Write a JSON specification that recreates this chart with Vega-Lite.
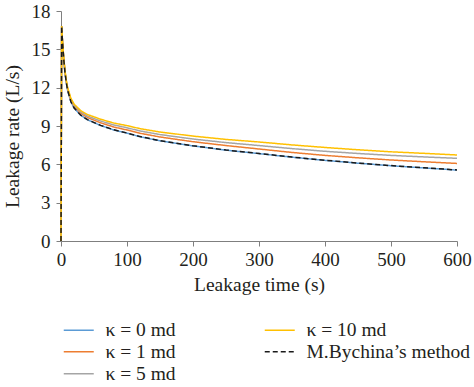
{
  "$schema": "https://vega.github.io/schema/vega-lite/v6.json",
  "autosize": {"type": "none"},
  "width": 396,
  "height": 230,
  "padding": {"left": 61, "top": 11, "right": 17, "bottom": 146},
  "background": "white",
  "config": {
    "view": {"stroke": null},
    "font": "Liberation Serif",
    "axis": {
      "grid": false,
      "domainColor": "#7f7f7f",
      "tickColor": "#7f7f7f",
      "labelColor": "#231f20",
      "titleColor": "#231f20",
      "labelFont": "Liberation Serif",
      "titleFont": "Liberation Serif",
      "labelFontSize": 19,
      "titleFontSize": 19.5,
      "titleFontWeight": "normal",
      "tickSize": 5
    },
    "legend": {
      "labelFont": "Liberation Serif",
      "labelFontSize": 19.5,
      "labelColor": "#231f20",
      "labelLimit": 400
    }
  },
  "data": {
    "values": [
      {"t": 0, "s": "κ = 0 md", "q": 0},
      {"t": 1, "s": "κ = 0 md", "q": 16.79},
      {"t": 2, "s": "κ = 0 md", "q": 15.79},
      {"t": 4, "s": "κ = 0 md", "q": 14.29},
      {"t": 6, "s": "κ = 0 md", "q": 13.19},
      {"t": 8, "s": "κ = 0 md", "q": 12.39},
      {"t": 10, "s": "κ = 0 md", "q": 11.79},
      {"t": 15, "s": "κ = 0 md", "q": 10.89},
      {"t": 20, "s": "κ = 0 md", "q": 10.39},
      {"t": 30, "s": "κ = 0 md", "q": 9.84},
      {"t": 40, "s": "κ = 0 md", "q": 9.49},
      {"t": 60, "s": "κ = 0 md", "q": 9.04},
      {"t": 80, "s": "κ = 0 md", "q": 8.69},
      {"t": 100, "s": "κ = 0 md", "q": 8.44},
      {"t": 120, "s": "κ = 0 md", "q": 8.16},
      {"t": 150, "s": "κ = 0 md", "q": 7.84},
      {"t": 200, "s": "κ = 0 md", "q": 7.44},
      {"t": 250, "s": "κ = 0 md", "q": 7.11},
      {"t": 300, "s": "κ = 0 md", "q": 6.84},
      {"t": 350, "s": "κ = 0 md", "q": 6.56},
      {"t": 400, "s": "κ = 0 md", "q": 6.31},
      {"t": 450, "s": "κ = 0 md", "q": 6.09},
      {"t": 500, "s": "κ = 0 md", "q": 5.89},
      {"t": 550, "s": "κ = 0 md", "q": 5.72},
      {"t": 600, "s": "κ = 0 md", "q": 5.55},

      {"t": 0, "s": "κ = 1 md", "q": 0},
      {"t": 1, "s": "κ = 1 md", "q": 16.81},
      {"t": 2, "s": "κ = 1 md", "q": 15.83},
      {"t": 4, "s": "κ = 1 md", "q": 14.35},
      {"t": 6, "s": "κ = 1 md", "q": 13.27},
      {"t": 8, "s": "κ = 1 md", "q": 12.48},
      {"t": 10, "s": "κ = 1 md", "q": 11.89},
      {"t": 15, "s": "κ = 1 md", "q": 11.01},
      {"t": 20, "s": "κ = 1 md", "q": 10.53},
      {"t": 30, "s": "κ = 1 md", "q": 10.0},
      {"t": 40, "s": "κ = 1 md", "q": 9.67},
      {"t": 60, "s": "κ = 1 md", "q": 9.25},
      {"t": 80, "s": "κ = 1 md", "q": 8.92},
      {"t": 100, "s": "κ = 1 md", "q": 8.69},
      {"t": 120, "s": "κ = 1 md", "q": 8.43},
      {"t": 150, "s": "κ = 1 md", "q": 8.14},
      {"t": 200, "s": "κ = 1 md", "q": 7.77},
      {"t": 250, "s": "κ = 1 md", "q": 7.47},
      {"t": 300, "s": "κ = 1 md", "q": 7.2},
      {"t": 350, "s": "κ = 1 md", "q": 6.93},
      {"t": 400, "s": "κ = 1 md", "q": 6.7},
      {"t": 450, "s": "κ = 1 md", "q": 6.51},
      {"t": 500, "s": "κ = 1 md", "q": 6.34},
      {"t": 550, "s": "κ = 1 md", "q": 6.2},
      {"t": 600, "s": "κ = 1 md", "q": 6.07},

      {"t": 0, "s": "κ = 5 md", "q": 0},
      {"t": 1, "s": "κ = 5 md", "q": 16.82},
      {"t": 2, "s": "κ = 5 md", "q": 15.85},
      {"t": 4, "s": "κ = 5 md", "q": 14.39},
      {"t": 6, "s": "κ = 5 md", "q": 13.32},
      {"t": 8, "s": "κ = 5 md", "q": 12.54},
      {"t": 10, "s": "κ = 5 md", "q": 11.96},
      {"t": 15, "s": "κ = 5 md", "q": 11.09},
      {"t": 20, "s": "κ = 5 md", "q": 10.62},
      {"t": 30, "s": "κ = 5 md", "q": 10.1},
      {"t": 40, "s": "κ = 5 md", "q": 9.78},
      {"t": 60, "s": "κ = 5 md", "q": 9.39},
      {"t": 80, "s": "κ = 5 md", "q": 9.08},
      {"t": 100, "s": "κ = 5 md", "q": 8.86},
      {"t": 120, "s": "κ = 5 md", "q": 8.61},
      {"t": 150, "s": "κ = 5 md", "q": 8.33},
      {"t": 200, "s": "κ = 5 md", "q": 7.98},
      {"t": 250, "s": "κ = 5 md", "q": 7.7},
      {"t": 300, "s": "κ = 5 md", "q": 7.47},
      {"t": 350, "s": "κ = 5 md", "q": 7.23},
      {"t": 400, "s": "κ = 5 md", "q": 7.02},
      {"t": 450, "s": "κ = 5 md", "q": 6.85},
      {"t": 500, "s": "κ = 5 md", "q": 6.7},
      {"t": 550, "s": "κ = 5 md", "q": 6.58},
      {"t": 600, "s": "κ = 5 md", "q": 6.47},

      {"t": 0, "s": "κ = 10 md", "q": 0},
      {"t": 1, "s": "κ = 10 md", "q": 16.83},
      {"t": 2, "s": "κ = 10 md", "q": 15.86},
      {"t": 4, "s": "κ = 10 md", "q": 14.42},
      {"t": 6, "s": "κ = 10 md", "q": 13.36},
      {"t": 8, "s": "κ = 10 md", "q": 12.59},
      {"t": 10, "s": "κ = 10 md", "q": 12.02},
      {"t": 15, "s": "κ = 10 md", "q": 11.16},
      {"t": 20, "s": "κ = 10 md", "q": 10.7},
      {"t": 30, "s": "κ = 10 md", "q": 10.2},
      {"t": 40, "s": "κ = 10 md", "q": 9.9},
      {"t": 60, "s": "κ = 10 md", "q": 9.53},
      {"t": 80, "s": "κ = 10 md", "q": 9.23},
      {"t": 100, "s": "κ = 10 md", "q": 9.03},
      {"t": 120, "s": "κ = 10 md", "q": 8.79},
      {"t": 150, "s": "κ = 10 md", "q": 8.53},
      {"t": 200, "s": "κ = 10 md", "q": 8.21},
      {"t": 250, "s": "κ = 10 md", "q": 7.95},
      {"t": 300, "s": "κ = 10 md", "q": 7.75},
      {"t": 350, "s": "κ = 10 md", "q": 7.52},
      {"t": 400, "s": "κ = 10 md", "q": 7.32},
      {"t": 450, "s": "κ = 10 md", "q": 7.14},
      {"t": 500, "s": "κ = 10 md", "q": 6.98},
      {"t": 550, "s": "κ = 10 md", "q": 6.86},
      {"t": 600, "s": "κ = 10 md", "q": 6.73},

      {"t": 0, "s": "M.Bychina’s method", "q": 0},
      {"t": 1, "s": "M.Bychina’s method", "q": 16.8},
      {"t": 2, "s": "M.Bychina’s method", "q": 15.8},
      {"t": 4, "s": "M.Bychina’s method", "q": 14.3},
      {"t": 6, "s": "M.Bychina’s method", "q": 13.2},
      {"t": 8, "s": "M.Bychina’s method", "q": 12.4},
      {"t": 10, "s": "M.Bychina’s method", "q": 11.8},
      {"t": 15, "s": "M.Bychina’s method", "q": 10.9},
      {"t": 20, "s": "M.Bychina’s method", "q": 10.4},
      {"t": 30, "s": "M.Bychina’s method", "q": 9.85},
      {"t": 40, "s": "M.Bychina’s method", "q": 9.5},
      {"t": 60, "s": "M.Bychina’s method", "q": 9.05},
      {"t": 80, "s": "M.Bychina’s method", "q": 8.7},
      {"t": 100, "s": "M.Bychina’s method", "q": 8.45},
      {"t": 120, "s": "M.Bychina’s method", "q": 8.17},
      {"t": 150, "s": "M.Bychina’s method", "q": 7.85},
      {"t": 200, "s": "M.Bychina’s method", "q": 7.45},
      {"t": 250, "s": "M.Bychina’s method", "q": 7.12},
      {"t": 300, "s": "M.Bychina’s method", "q": 6.85},
      {"t": 350, "s": "M.Bychina’s method", "q": 6.57},
      {"t": 400, "s": "M.Bychina’s method", "q": 6.32},
      {"t": 450, "s": "M.Bychina’s method", "q": 6.1},
      {"t": 500, "s": "M.Bychina’s method", "q": 5.9},
      {"t": 550, "s": "M.Bychina’s method", "q": 5.73},
      {"t": 600, "s": "M.Bychina’s method", "q": 5.56}
    ]
  },
  "encoding": {
    "x": {
      "field": "t",
      "type": "quantitative",
      "scale": {"domain": [0, 600], "nice": false},
      "axis": {"values": [0, 100, 200, 300, 400, 500, 600], "title": "Leakage time (s)", "labelPadding": 4, "titlePadding": 6, "labelFlush": false}
    },
    "y": {
      "field": "q",
      "type": "quantitative",
      "scale": {"domain": [0, 18], "nice": false},
      "axis": {"values": [0, 3, 6, 9, 12, 15, 18], "title": "Leakage rate (L/s)", "labelPadding": 6, "titlePadding": 9, "titleY": 125}
    },
    "color": {
      "field": "s",
      "type": "nominal",
      "scale": {
        "domain": ["κ = 0 md", "κ = 10 md", "κ = 1 md", "M.Bychina’s method", "κ = 5 md"],
        "range": ["#5b9bd5", "#ffc000", "#ed7d31", "#1a1a1a", "#a5a5a5"]
      },
      "legend": {
        "title": null,
        "orient": "none",
        "legendX": 8,
        "legendY": 309,
        "columns": 2,
        "direction": "horizontal",
        "symbolType": "M-3,0L3,0",
        "symbolSize": 100,
        "symbolStrokeWidth": 1.5,
        "labelOffset": 17,
        "columnPadding": 85,
        "rowPadding": 1
      }
    },
    "strokeDash": {
      "field": "s",
      "type": "nominal",
      "scale": {
        "domain": ["κ = 0 md", "κ = 10 md", "κ = 1 md", "M.Bychina’s method", "κ = 5 md"],
        "range": [[1, 0], [1, 0], [1, 0], [5, 3], [1, 0]]
      }
    }
  },
  "layer": [
    {
      "transform": [{"filter": "datum.s !== 'M.Bychina’s method'"}],
      "mark": {"type": "line", "strokeWidth": 1.5}
    },
    {
      "transform": [{"filter": "datum.s === 'M.Bychina’s method'"}],
      "mark": {"type": "line", "strokeWidth": 1.5}
    }
  ]
}
